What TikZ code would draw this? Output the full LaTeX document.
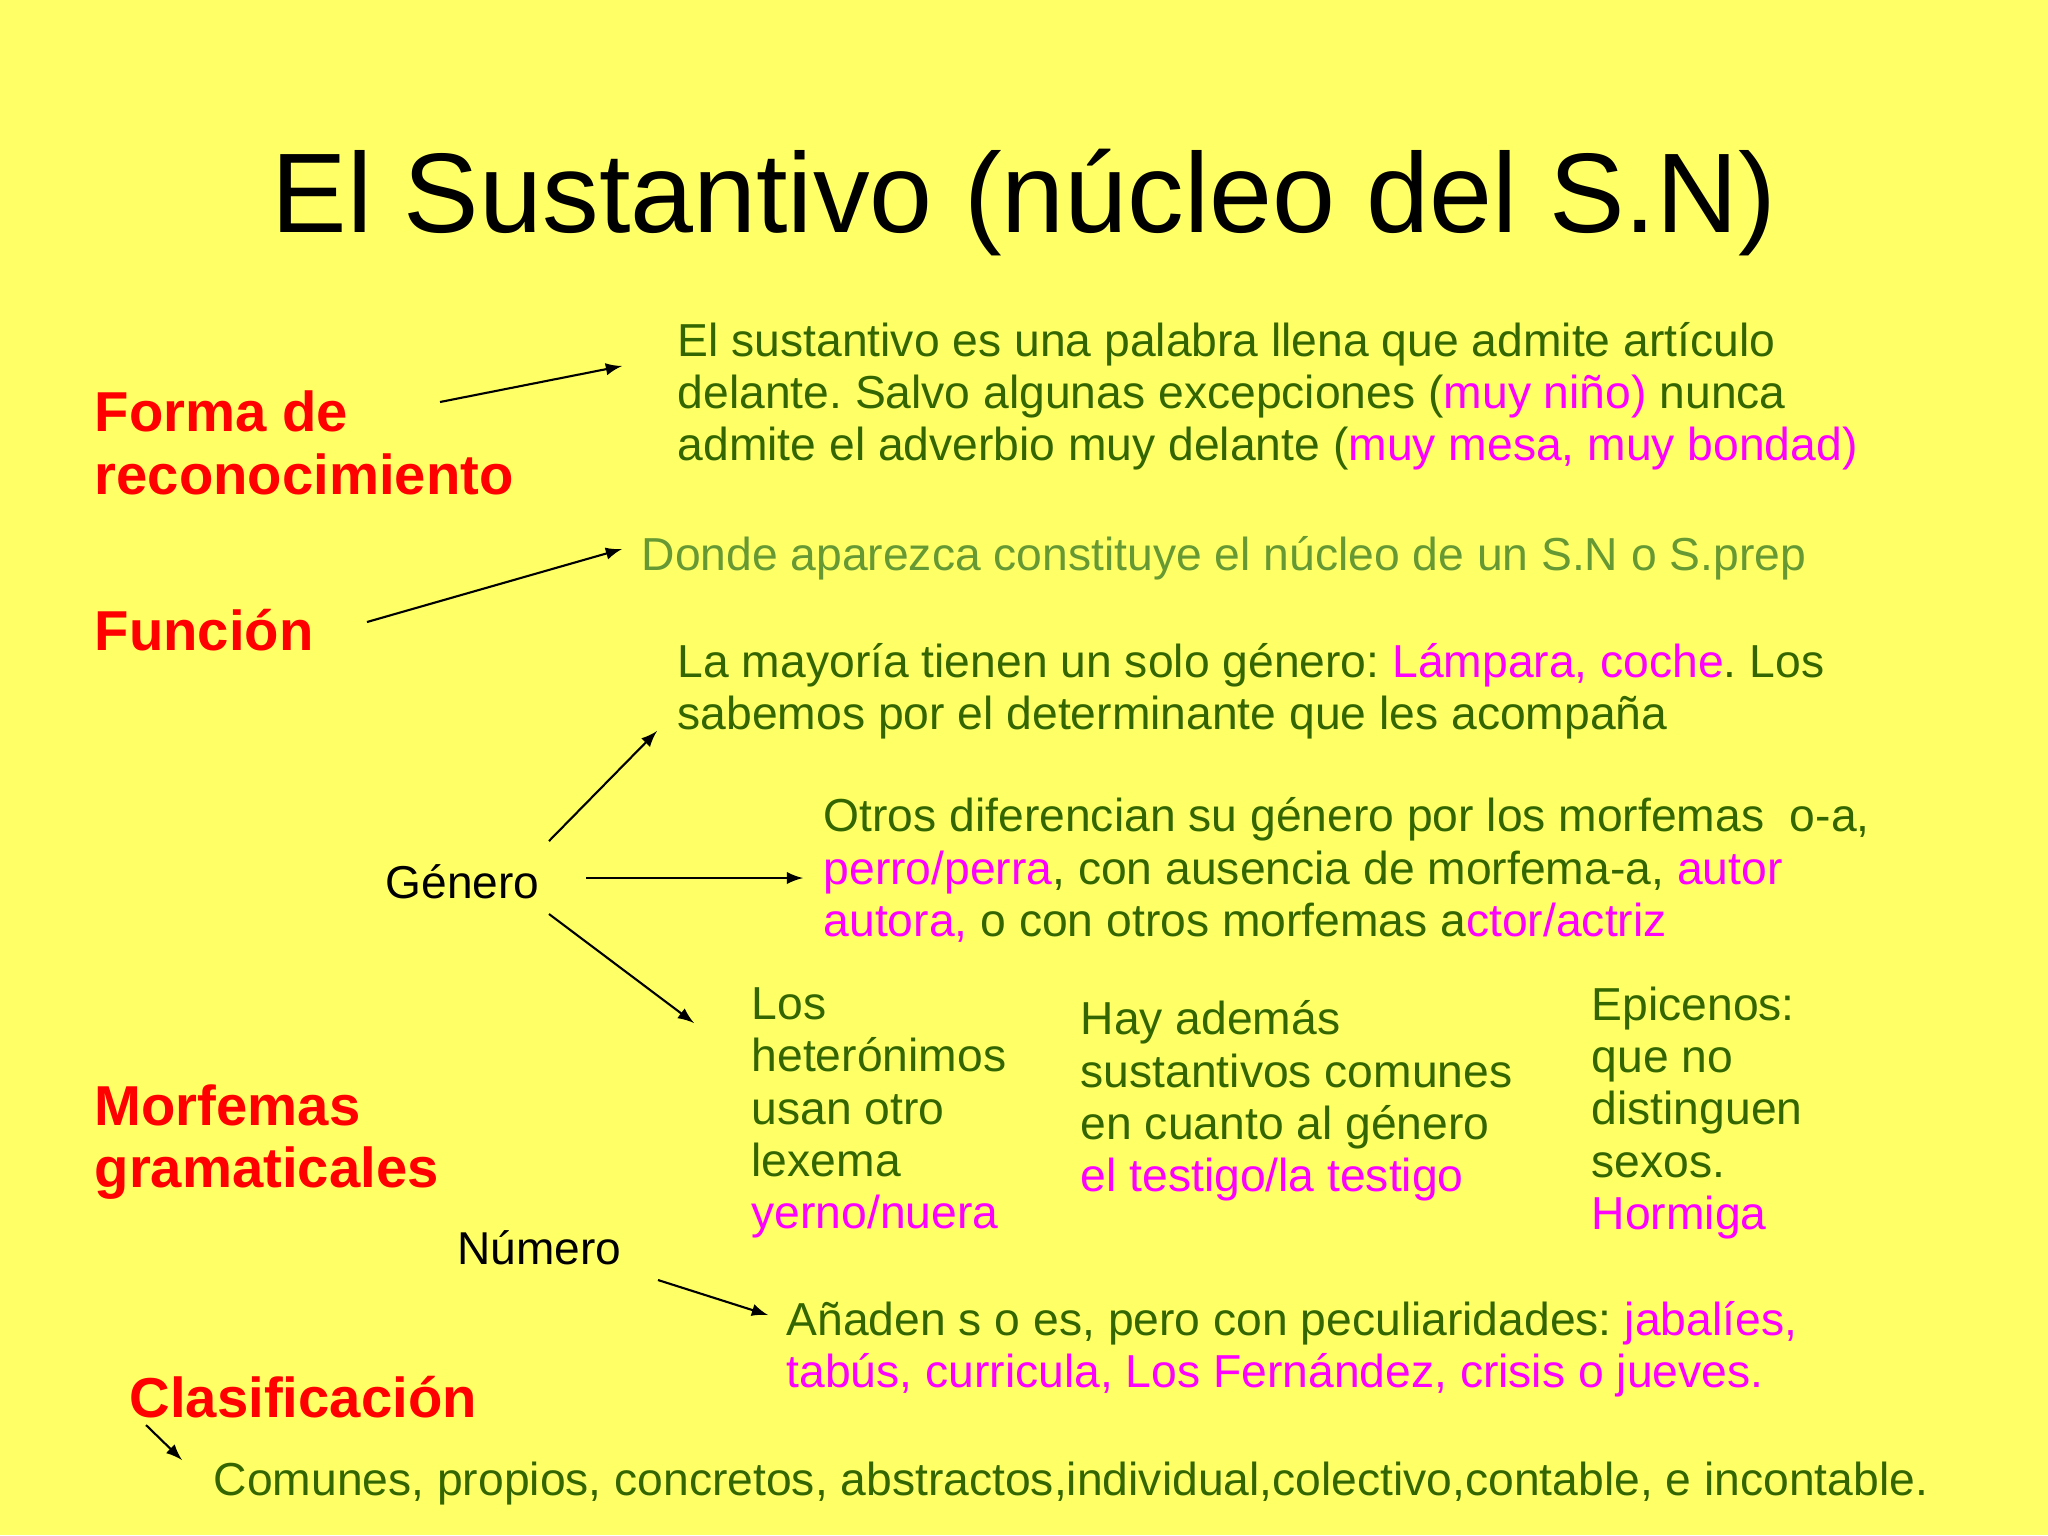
\documentclass[tikz,border=0pt]{standalone}
\usepackage{fontspec}
\setmainfont{Liberation Sans}
\usetikzlibrary{arrows}
\definecolor{fondo}{HTML}{FFFF66}
\definecolor{verde}{HTML}{336600}
\definecolor{verdeclaro}{HTML}{669933}
\definecolor{rosa}{HTML}{FF00FF}
\definecolor{rojo}{HTML}{FF0000}
\frenchspacing

\begin{document}
\begin{tikzpicture}[x=0.01cm,y=-0.01cm,>=latex]
            \tikzstyle{every node} = [inner sep=0pt,anchor=west,align=left];
            \tikzstyle{texto} = [text=verde,font=\fontsize{13.15}{14.85}\selectfont];
            \tikzstyle{rotulo} = [text=rojo,font=\fontsize{16}{17.8}\selectfont\bfseries];
            \tikzstyle{rama} = [text=black,font=\fontsize{13.1}{14.85}\selectfont];
            \tikzstyle{flecha} = [->,line width=0.6pt];
            \fill[fondo] (0,0) rectangle (2048,1535);
            \useasboundingbox (0,0) rectangle (2048,1535);
            \node[anchor=center,font=\fontsize{32.2}{38}\selectfont] (titulo) at (1024,203) {El Sustantivo (núcleo del S.N)};
            % rotulos de la izquierda
            \node[rotulo] (forma) at (94,443) {Forma de\\reconocimiento};
            \node[rotulo] (funcion) at (94,630) {Función};
            \node[rotulo] (morfemas) at (94,1142) {Morfemas\\gramaticales};
            \node[rotulo] (clasif) at (129,1397) {Clasificación};
            \node[rama] (genero) at (385,882) {Género};
            \node[rama] (numero) at (457,1248) {Número};
            % textos
            \node[texto] (reconoc) at (677,396) {El sustantivo es una palabra llena que admite artículo\\delante. Salvo algunas excepciones (\textcolor{rosa}{muy niño)} nunca\\admite el adverbio muy delante (\textcolor{rosa}{muy mesa, muy bondad)}};
            \node[texto,text=verdeclaro] (donde) at (641,558) {Donde aparezca constituye el núcleo de un S.N o S.prep};
            \node[texto] (mayoria) at (677,691) {La mayoría tienen un solo género: \textcolor{rosa}{Lámpara, coche}. Los\\sabemos por el determinante que les acompaña};
            \node[texto] (otros) at (823,870) {Otros diferencian su género por los morfemas \ o-a,\\\textcolor{rosa}{perro/perra}, con ausencia de morfema-a, \textcolor{rosa}{autor}\\\textcolor{rosa}{autora,} o con otros morfemas a\textcolor{rosa}{ctor/actriz}};
            \node[texto] (heter) at (751,1113) {Los\\heterónimos\\usan otro\\lexema\\\textcolor{rosa}{yerno/nuera}};
            \node[texto] (comunes) at (1080,1101) {Hay además\\sustantivos comunes\\en cuanto al género\\\textcolor{rosa}{el testigo/la testigo}};
            \node[texto] (epic) at (1591,1113) {Epicenos:\\que no\\distinguen\\sexos.\\\textcolor{rosa}{Hormiga}};
            \node[texto] (anaden) at (786,1349) {Añaden s o es, pero con peculiaridades: \textcolor{rosa}{jabalíes,}\\\textcolor{rosa}{tabús, curricula, Los Fernández, crisis o jueves.}};
            \node[texto] (tipos) at (213,1484) {Comunes, propios, concretos, abstractos,individual,colectivo,contable, e incontable.};
            % extremos de las flechas
            \coordinate (f1) at (440,402);
            \coordinate (t1) at (622,366);
            \coordinate (f2) at (367,622);
            \coordinate (t2) at (622,549);
            \coordinate (g1) at (549,841);
            \coordinate (h1) at (657,731);
            \coordinate (g2) at (586,878);
            \coordinate (h2) at (803,878);
            \coordinate (g3) at (549,914);
            \coordinate (h3) at (694,1023);
            \coordinate (n1) at (658,1280);
            \coordinate (m1) at (768,1315);
            \coordinate (c1) at (146,1425);
            \coordinate (d1) at (182,1460);
            \draw[flecha] (f1) -- (t1);
            \draw[flecha] (f2) -- (t2);
            \draw[flecha] (g1) -- (h1);
            \draw[flecha] (g2) -- (h2);
            \draw[flecha] (g3) -- (h3);
            \draw[flecha] (n1) -- (m1);
            \draw[flecha] (c1) -- (d1);
        \end{tikzpicture}
\end{document}
